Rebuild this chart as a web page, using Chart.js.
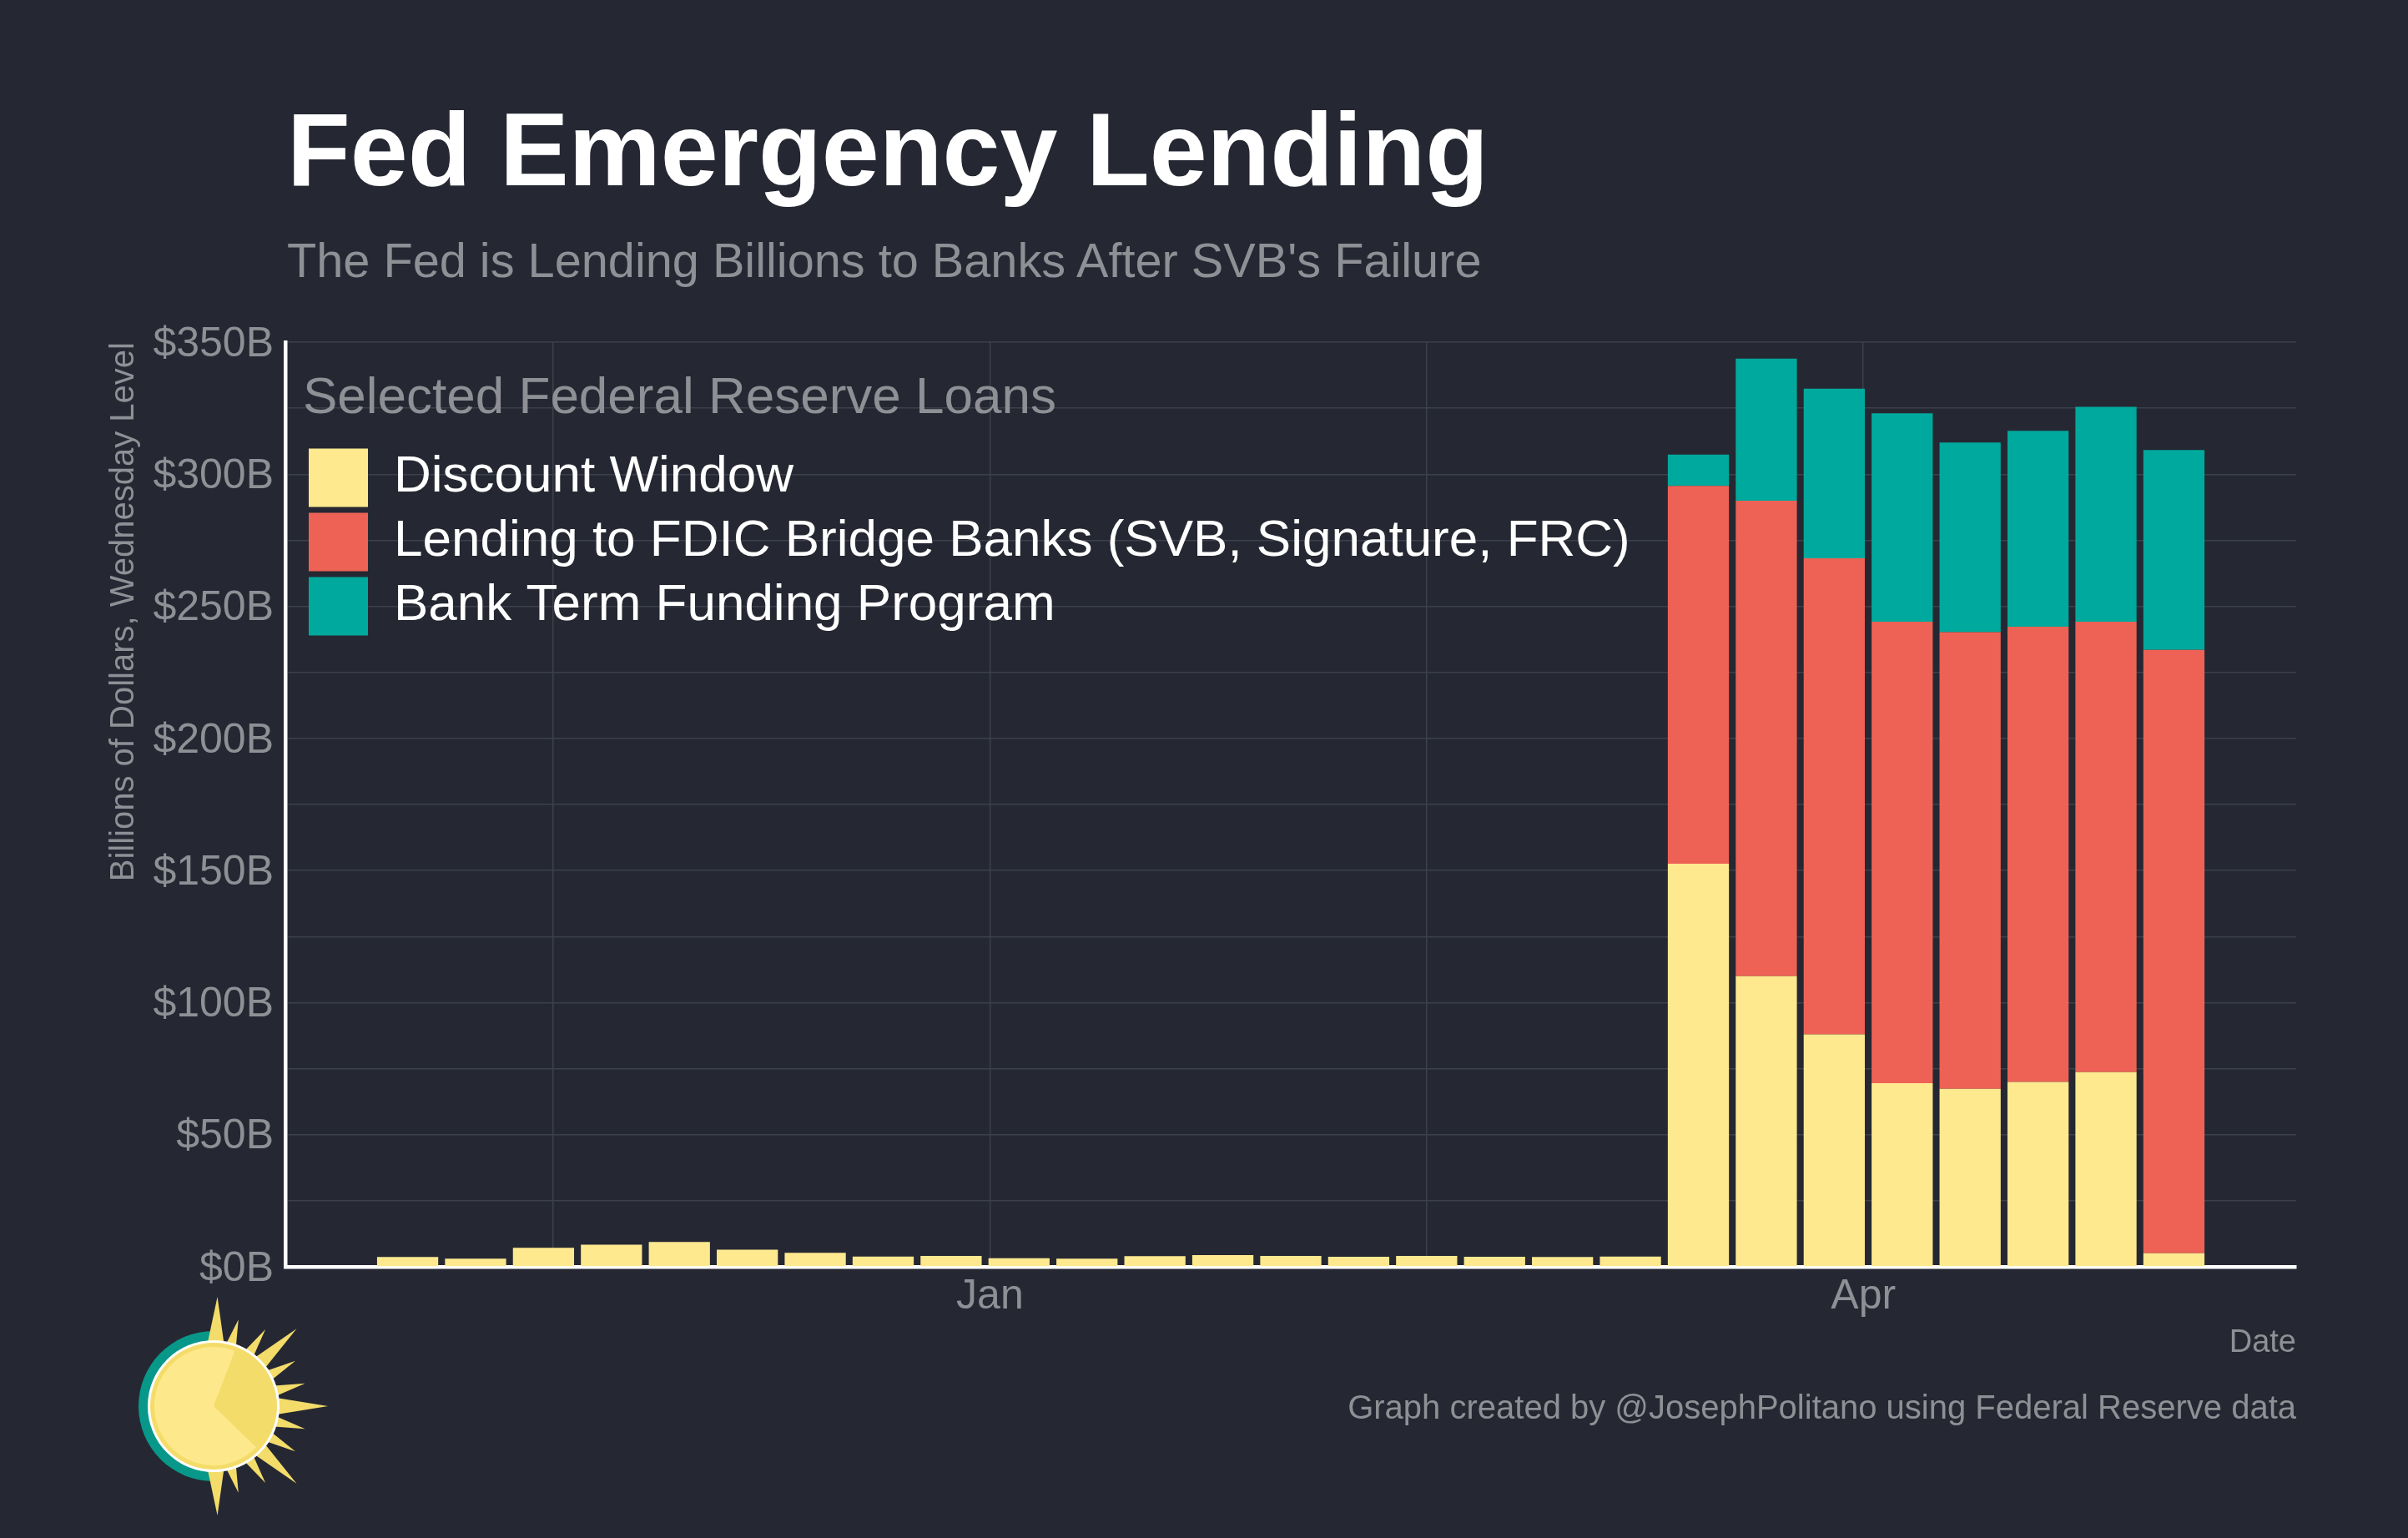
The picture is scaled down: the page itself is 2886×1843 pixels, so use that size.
<!DOCTYPE html>
<html lang="en">
<head>
<meta charset="UTF-8">
<title>Fed Emergency Lending</title>
<script src="https://cdn.jsdelivr.net/npm/chart.js"></script>
<style>
    body { margin: 0; background: #252832; font-family: 'Liberation Sans', Arial, sans-serif; }
    #wrap { position: relative; width: 2886px; height: 1843px; overflow: hidden; }
    #lendingChart { position: absolute; left: 0; top: 0; }
    .txt { position: absolute; line-height: 1; white-space: nowrap; }
    #title { left: 344px; top: 117px; font-size: 124px; font-weight: bold; color: #ffffff; }
    #subtitle { left: 344px; top: 284px; font-size: 57.7px; color: #8f9096; }
    #xname { right: 134px; top: 1588px; font-size: 38px; color: #8f9096; }
    #caption { right: 134px; top: 1666px; font-size: 40px; color: #8f9096; }
</style>
</head>
<body>
<div id="wrap">
    <canvas id="lendingChart" width="2886" height="1843"></canvas>
    <div class="txt" id="title">Fed Emergency Lending</div>
    <div class="txt" id="subtitle">The Fed is Lending Billions to Banks After SVB's Failure</div>
    <div class="txt" id="xname">Date</div>
    <div class="txt" id="caption">Graph created by @JosephPolitano using Federal Reserve data</div>
</div>

<script>
    // weekly (Wednesday) levels, billions of dollars
    const weeks = [
        '2022-11-02', '2022-11-09', '2022-11-16', '2022-11-23', '2022-11-30',
        '2022-12-07', '2022-12-14', '2022-12-21', '2022-12-28',
        '2023-01-04', '2023-01-11', '2023-01-18', '2023-01-25',
        '2023-02-01', '2023-02-08', '2023-02-15', '2023-02-22',
        '2023-03-01', '2023-03-08', '2023-03-15', '2023-03-22', '2023-03-29',
        '2023-04-05', '2023-04-12', '2023-04-19', '2023-04-26', '2023-05-03'
    ];
    const discountWindow = [3.7, 3.1, 7.2, 8.4, 9.4, 6.5, 5.3, 3.9, 4.1, 3.2, 3.1, 4.0, 4.4, 4.1,
                            3.8, 4.1, 3.8, 3.7, 3.9, 152.6, 110.0, 88.0, 69.5, 67.4, 70.0, 73.7, 5.1];
    const bridgeBanks = [0, 0, 0, 0, 0, 0, 0, 0, 0, 0, 0, 0, 0, 0, 0, 0, 0, 0, 0,
                         143.0, 180.0, 180.2, 174.7, 172.8, 172.3, 170.5, 228.4];
    const termFunding = [0, 0, 0, 0, 0, 0, 0, 0, 0, 0, 0, 0, 0, 0, 0, 0, 0, 0, 0,
                         11.8, 53.8, 64.2, 78.9, 71.8, 74.1, 81.3, 75.7];

    const seriesNames = ['Discount Window', 'Lending to FDIC Bridge Banks (SVB, Signature, FRC)', 'Bank Term Funding Program'];
    const seriesColors = ['#FFE98F', '#EE6256', '#00A99D'];

    // x axis: grid dates and their labels
    const gridDates = ['2022-11-17', '2023-01-01', '2023-02-15', '2023-04-01'];
    const gridLabels = ['', 'Jan', '', 'Apr'];
    const xRange = [-72.6, 134.6];   // days from 2023-01-01
    const yTicks = [0, 50, 100, 150, 200, 250, 300, 350];

    const GRAY = '#8f9096';
    const GRID = '#3c404a';
    Chart.defaults.font.family = "'Liberation Sans', Arial, sans-serif";

    const dayOf = s => (Date.parse(s) - Date.parse('2023-01-01')) / 86400000;
    const toPoints = arr => arr.map((v, i) => ({ x: dayOf(weeks[i]), y: v }));

    // legend sits inside the panel, a little off the axis line
    const legendNudge = {
        id: 'legendNudge',
        afterLayout(chart) {
            const lg = chart.legend;
            const area = chart.chartArea;
            lg.left = area.left + 21;
            lg.right = lg.left + lg.width;
            lg.top = area.top;
            lg.bottom = lg.top + lg.height;
        }
    };

    // little sun logo bottom left
    const sunLogo = {
        id: 'sunLogo',
        afterDraw(chart) {
            const ctx = chart.ctx;
            const cx = 256, cy = 1685;
            const rad = d => d * Math.PI / 180;
            ctx.save();
            ctx.fillStyle = '#07988a';
            ctx.beginPath();
            ctx.arc(cx, cy, 90, Math.PI / 2, Math.PI * 1.5);
            ctx.closePath();
            ctx.fill();

            ctx.fillStyle = '#f4dc6a';
            const rays = [[-88, 131, 9], [-74, 108, 6], [-56, 111, 6], [-43, 136, 8], [-29, 112, 6], [-14, 113, 6],
                          [0, 137, 9], [14, 113, 6], [29, 112, 6], [43, 136, 8], [56, 111, 6], [74, 108, 6], [88, 131, 9]];
            rays.forEach(([a, len, half]) => {
                ctx.beginPath();
                ctx.moveTo(cx + 70 * Math.cos(rad(a - half)), cy + 70 * Math.sin(rad(a - half)));
                ctx.lineTo(cx + len * Math.cos(rad(a)), cy + len * Math.sin(rad(a)));
                ctx.lineTo(cx + 70 * Math.cos(rad(a + half)), cy + 70 * Math.sin(rad(a + half)));
                ctx.closePath();
                ctx.fill();
            });

            ctx.fillStyle = '#ffffff';
            ctx.beginPath(); ctx.arc(cx, cy, 79, 0, Math.PI * 2); ctx.fill();
            ctx.fillStyle = '#f4dc6a';
            ctx.beginPath(); ctx.arc(cx, cy, 76, 0, Math.PI * 2); ctx.fill();
            ctx.fillStyle = '#fde88c';
            ctx.beginPath();
            ctx.moveTo(cx, cy);
            ctx.arc(cx, cy, 71, rad(44), rad(291));
            ctx.closePath();
            ctx.fill();
            ctx.restore();
        }
    };

    const ctx = document.getElementById('lendingChart').getContext('2d');
    const chart = new Chart(ctx, {
        type: 'bar',
        data: {
            datasets: [
                { label: seriesNames[0], data: toPoints(discountWindow), backgroundColor: seriesColors[0] },
                { label: seriesNames[1], data: toPoints(bridgeBanks), backgroundColor: seriesColors[1] },
                { label: seriesNames[2], data: toPoints(termFunding), backgroundColor: seriesColors[2] }
            ]
        },
        options: {
            responsive: false,
            devicePixelRatio: 1,
            animation: false,
            layout: { padding: { left: 0, top: 410, right: 134, bottom: 225 } },
            datasets: {
                bar: { borderWidth: 0, categoryPercentage: 1, barPercentage: 0.9 }
            },
            scales: {
                x: {
                    type: 'linear',
                    stacked: true,
                    offset: false,
                    min: xRange[0],
                    max: xRange[1],
                    afterBuildTicks: scale => { scale.ticks = gridDates.map(d => ({ value: dayOf(d) })); },
                    afterFit: scale => { scale.height = 100; },
                    grid: { color: GRID, lineWidth: 1.5, drawTicks: false, offset: false },
                    border: { color: '#ffffff', width: 4.5 },
                    ticks: {
                        autoSkip: false,
                        maxRotation: 0,
                        padding: 6,
                        color: GRAY,
                        font: { size: 50 },
                        callback: (value, i) => gridLabels[i]
                    }
                },
                y: {
                    stacked: true,
                    min: 0,
                    max: 350,
                    afterFit: scale => { scale.width = 342; },
                    grid: { color: GRID, lineWidth: 1.5, drawTicks: false },
                    border: { color: '#ffffff', width: 4.5 },
                    ticks: {
                        stepSize: 25,
                        autoSkip: false,
                        padding: 14,
                        labelOffset: 3,
                        color: GRAY,
                        font: { size: 50 },
                        callback: v => yTicks.includes(v) ? '$' + v + 'B' : ''
                    },
                    title: {
                        display: true,
                        text: 'Billions of Dollars, Wednesday Level',
                        align: 'end',
                        color: GRAY,
                        font: { size: 40 },
                        padding: { top: 125, bottom: 0 }
                    }
                }
            },
            plugins: {
                legend: {
                    position: 'chartArea',
                    align: 'start',
                    title: {
                        display: true,
                        text: 'Selected Federal Reserve Loans',
                        position: 'start',
                        color: GRAY,
                        font: { size: 62 },
                        padding: { top: 37, bottom: 9 }
                    },
                    labels: {
                        boxWidth: 71,
                        boxHeight: 70,
                        padding: 7,
                        color: '#ffffff',
                        font: { size: 62 }
                    }
                },
                tooltip: { enabled: false }
            }
        },
        plugins: [legendNudge, sunLogo]
    });
</script>
</body>
</html>
